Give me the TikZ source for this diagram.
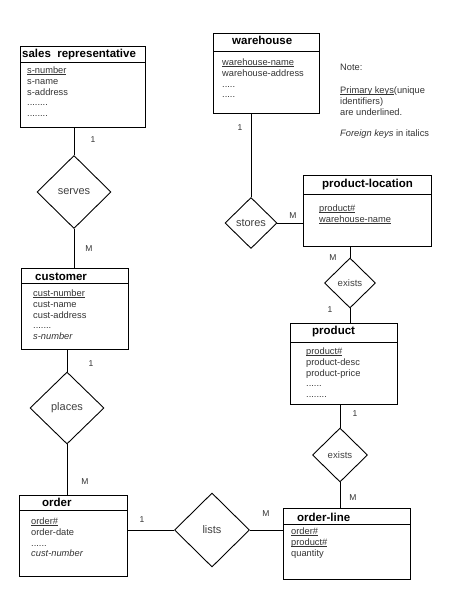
\documentclass[tikz,border=0pt]{standalone}
\usepackage{fontspec}
\setmainfont{Liberation Sans}
\usepackage{tikz}
\usetikzlibrary{arrows,shapes}

% underline set close to the baseline
\newcommand{\pkey}[1]{\setbox0\hbox{#1}\rlap{\rule[-1.3pt]{\wd0}{0.45pt}}#1}

\tikzset{
  entity/.style={draw, line width=0.9pt, rectangle, anchor=north west, inner sep=0pt},
  relation/.style={draw, line width=0.9pt, diamond, aspect=1, inner sep=0pt, text=black!75,
    font=\fontsize{11}{13}\selectfont},
  title/.style={anchor=west, inner sep=0pt, text height=8.4pt, text depth=2.4pt,
    font=\fontsize{11.5}{13}\selectfont\bfseries},
  fields/.style={anchor=north west, align=left, inner sep=0pt, text=black!80,
    font=\fontsize{9.3}{10.7}\selectfont},
  card/.style={inner sep=0pt, text=black!80, font=\fontsize{8.5}{10}\selectfont},
  edge/.style={line width=0.9pt}
}

\begin{document}
\begin{tikzpicture}[x=1pt, y=-1pt]
        \useasboundingbox (0,0) rectangle (474,604);
        % entities
        \node[entity, minimum width=125pt, minimum height=81pt] (salesrep) at (20,46) {};
        \draw[edge] ([yshift=-16pt]salesrep.north west) -- ([yshift=-16pt]salesrep.north east);
        \node[title] (salesrep-t) at (22,55) {sales\ \ representative};
        \node[fields] (salesrep-f) at (27,66.7) {\pkey{s-number}\\s-name\\s-address\\........\\........};

        \node[entity, minimum width=106pt, minimum height=80pt] (warehouse) at (213,33) {};
        \draw[edge] ([yshift=-18pt]warehouse.north west) -- ([yshift=-18pt]warehouse.north east);
        \node[title] (warehouse-t) at (232,41.5) {warehouse};
        \node[fields] (warehouse-f) at (222,58.7) {\pkey{warehouse-name}\\warehouse-address\\.....\\.....};

        \node[entity, minimum width=107pt, minimum height=81pt] (customer) at (21,268) {};
        \draw[edge] ([yshift=-15pt]customer.north west) -- ([yshift=-15pt]customer.north east);
        \node[title] (customer-t) at (35,277) {customer};
        \node[fields] (customer-f) at (33,289.7) {\pkey{cust-number}\\cust-name\\cust-address\\.......\\\textit{s-number}};

        \node[entity, minimum width=128pt, minimum height=71pt] (prodloc) at (303,175) {};
        \draw[edge] ([yshift=-19pt]prodloc.north west) -- ([yshift=-19pt]prodloc.north east);
        \node[title] (prodloc-t) at (322,184.5) {product-location};
        \node[fields] (prodloc-f) at (319,204.7) {\pkey{product\#}\\\pkey{warehouse-name}};

        \node[entity, minimum width=107pt, minimum height=81pt] (product) at (290,323) {};
        \draw[edge] ([yshift=-19pt]product.north west) -- ([yshift=-19pt]product.north east);
        \node[title] (product-t) at (312,331.5) {product};
        \node[fields] (product-f) at (306,347.7) {\pkey{product\#}\\product-desc\\product-price\\......\\........};

        \node[entity, minimum width=108pt, minimum height=81pt] (order) at (19,495) {};
        \draw[edge] ([yshift=-15pt]order.north west) -- ([yshift=-15pt]order.north east);
        \node[title] (order-t) at (42,503) {order};
        \node[fields] (order-f) at (31,517.7) {\pkey{order\#}\\order-date\\......\\\textit{cust-number}};

        \node[entity, minimum width=127pt, minimum height=71pt] (orderline) at (283,508) {};
        \draw[edge] ([yshift=-16pt]orderline.north west) -- ([yshift=-16pt]orderline.north east);
        \node[title] (orderline-t) at (297,518) {order-line};
        \node[fields] (orderline-f) at (291,527.7) {\pkey{order\#}\\\pkey{product\#}\\quantity};

        % relationships
        \node[relation, minimum width=74pt, minimum height=73pt] (serves) at (74,192) {serves};
        \node[relation, minimum width=74pt, minimum height=72pt] (places) at (67,408) {places};
        \node[relation, minimum width=75pt, minimum height=74pt] (lists) at (212,530) {lists};
        \node[relation, minimum width=52pt, minimum height=51pt] (stores) at (251,223) {stores};
        \node[relation, minimum width=51pt, minimum height=50pt, font=\fontsize{9.6}{11}\selectfont] (exists1) at (350,283) {exists};
        \node[relation, minimum width=55pt, minimum height=54pt, font=\fontsize{9.6}{11}\selectfont] (exists2) at (340,455) {exists};

        % connectors
        \draw[edge] (serves.north) -- (serves.north |- salesrep.south);
        \draw[edge] (serves.south) -- (serves.south |- customer.north);
        \draw[edge] (places.north) -- (places.north |- customer.south);
        \draw[edge] (places.south) -- (places.south |- order.north);
        \draw[edge] (lists.west) -- (lists.west -| order.east);
        \draw[edge] (lists.east) -- (lists.east -| orderline.west);
        \draw[edge] (exists2.south) -- (exists2.south |- orderline.north);
        \draw[edge] (exists2.north) -- (exists2.north |- product.south);
        \draw[edge] (exists1.south) -- (exists1.south |- product.north);
        \draw[edge] (exists1.north) -- (exists1.north |- prodloc.south);
        \draw[edge] (stores.east) -- (stores.east -| prodloc.west);
        \draw[edge] (stores.north) -- (stores.north |- warehouse.south);

        % cardinalities
        \node[card] (c1) at (93,140) {1};
        \node[card] (c2) at (89,249) {M};
        \node[card] (c3) at (91,364) {1};
        \node[card] (c4) at (85,482) {M};
        \node[card] (c5) at (142,520) {1};
        \node[card] (c6) at (266,514) {M};
        \node[card] (c7) at (353,498) {M};
        \node[card] (c8) at (355,414) {1};
        \node[card] (c9) at (330,310) {1};
        \node[card] (c10) at (333,258) {M};
        \node[card] (c11) at (293,216) {M};
        \node[card] (c12) at (240,128) {1};

        % note
        \node[fields] (note) at (340,63.7) {Note:};
        \node[fields] (pknote) at (340,86.7) {\pkey{Primary keys}(unique\\identifiers)\\are underlined.};
        \node[fields] (fknote) at (340,129.7) {\textit{Foreign keys} in italics};
    \end{tikzpicture}
\end{document}
